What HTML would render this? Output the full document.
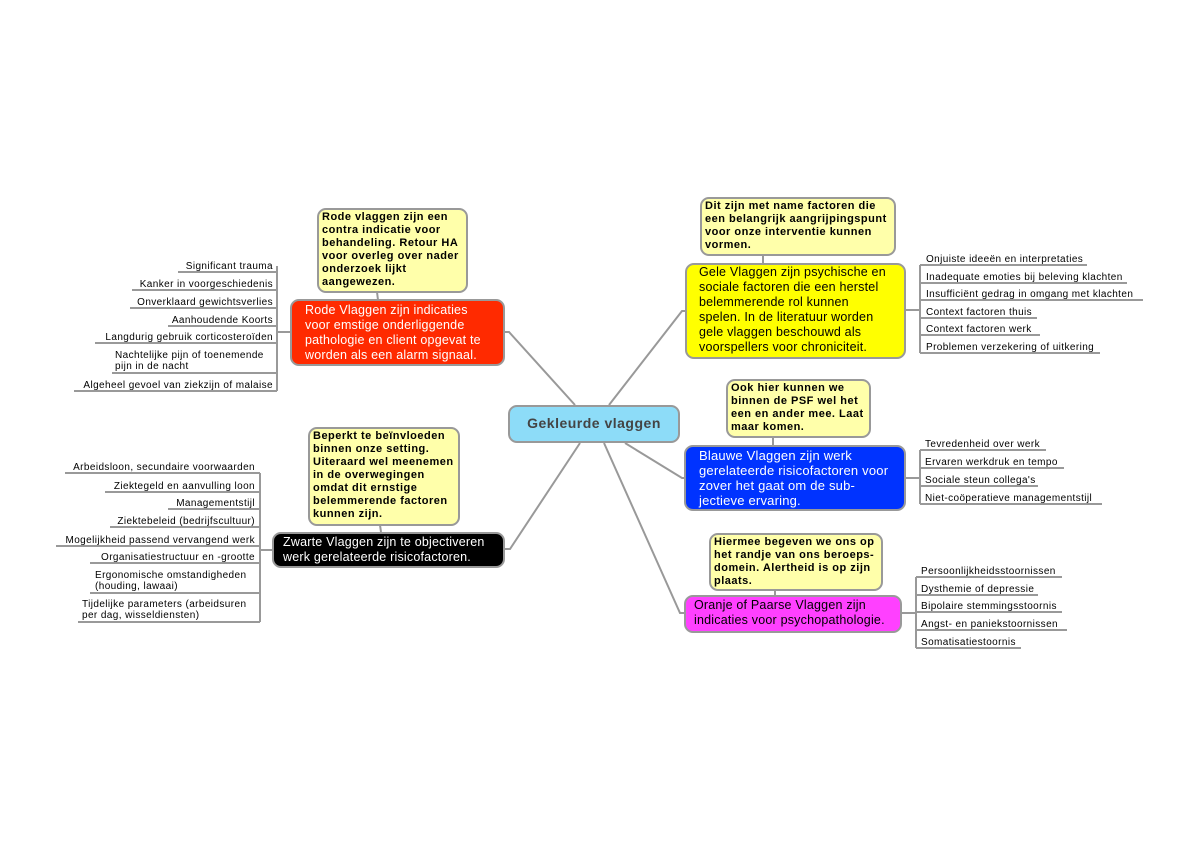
<!DOCTYPE html>
<html><head><meta charset="utf-8"><style>
body{margin:0;width:1200px;height:848px;background:#fff;position:relative;overflow:hidden;font-family:"Liberation Sans","DejaVu Sans",sans-serif;}
.b{position:absolute;box-sizing:border-box;border:2px solid #999;border-radius:9px;}
.t{position:absolute;font-size:12.5px;line-height:15px;letter-spacing:0.2px;white-space:nowrap;}
.c{position:absolute;box-sizing:border-box;border:2px solid #999;border-radius:9px;background:#ffffaa;font-weight:bold;font-size:11px;line-height:13px;padding:1px 3px;color:#000;letter-spacing:0.5px;white-space:nowrap;}
.i{position:absolute;font-size:10px;line-height:11px;white-space:nowrap;color:#000;letter-spacing:0.4px;}
</style></head><body>
<svg width="1200" height="848" style="position:absolute;left:0;top:0" fill="none" stroke="#999" stroke-width="2">
<polyline points="505,332 509,332 575,405"/>
<polyline points="609,405 682,311 686,311"/>
<polyline points="625,443 682,478 686,478"/>
<polyline points="580,443 510,549 505,549"/>
<polyline points="604,443 680,613 686,613"/>
<polyline points="290,332 277,332"/>
<line x1="277" y1="266" x2="277" y2="391"/>
<line x1="178" y1="272" x2="277" y2="272"/>
<line x1="132" y1="290" x2="277" y2="290"/>
<line x1="130" y1="308" x2="277" y2="308"/>
<line x1="168" y1="326" x2="277" y2="326"/>
<line x1="95" y1="343" x2="277" y2="343"/>
<line x1="112" y1="373" x2="277" y2="373"/>
<line x1="74" y1="391" x2="277" y2="391"/>
<polyline points="272,550 260,550"/>
<line x1="260" y1="473" x2="260" y2="622"/>
<line x1="65" y1="473" x2="260" y2="473"/>
<line x1="105" y1="492" x2="260" y2="492"/>
<line x1="168" y1="509" x2="260" y2="509"/>
<line x1="110" y1="527" x2="260" y2="527"/>
<line x1="56" y1="546" x2="260" y2="546"/>
<line x1="90" y1="563" x2="260" y2="563"/>
<line x1="90" y1="593" x2="260" y2="593"/>
<line x1="78" y1="622" x2="260" y2="622"/>
<polyline points="906,310 920,310"/>
<line x1="920" y1="265" x2="920" y2="353"/>
<line x1="920" y1="265" x2="1087" y2="265"/>
<line x1="920" y1="283" x2="1127" y2="283"/>
<line x1="920" y1="300" x2="1143" y2="300"/>
<line x1="920" y1="318" x2="1037" y2="318"/>
<line x1="920" y1="335" x2="1040" y2="335"/>
<line x1="920" y1="353" x2="1100" y2="353"/>
<polyline points="906,478 920,478"/>
<line x1="920" y1="450" x2="920" y2="504"/>
<line x1="920" y1="450" x2="1046" y2="450"/>
<line x1="920" y1="468" x2="1064" y2="468"/>
<line x1="920" y1="486" x2="1038" y2="486"/>
<line x1="920" y1="504" x2="1102" y2="504"/>
<polyline points="902,613 916,613"/>
<line x1="916" y1="577" x2="916" y2="648"/>
<line x1="916" y1="577" x2="1062" y2="577"/>
<line x1="916" y1="595" x2="1038" y2="595"/>
<line x1="916" y1="612" x2="1062" y2="612"/>
<line x1="916" y1="630" x2="1067" y2="630"/>
<line x1="916" y1="648" x2="1021" y2="648"/>
<line x1="377" y1="292" x2="378" y2="300"/>
<line x1="380" y1="525" x2="381" y2="532"/>
<line x1="763" y1="255" x2="763" y2="264"/>
<line x1="773" y1="437" x2="773" y2="446"/>
<line x1="775" y1="590" x2="775" y2="596"/>
</svg>

<div class="b" style="left:508px;top:405px;width:172px;height:38px;background:#8ddcf8;"></div>
<div class="t" style="left:508px;top:416px;width:172px;text-align:center;font-size:14px;font-weight:bold;color:#444;letter-spacing:0.5px;">Gekleurde vlaggen</div>

<div class="b" style="left:290px;top:299px;width:215px;height:67px;background:#ff2a00;"></div>
<div class="t" style="left:305px;top:303px;color:#fff;">Rode Vlaggen zijn indicaties<br>voor emstige onderliggende<br>pathologie en client opgevat te<br>worden als een alarm signaal.</div>
<div class="c" style="left:317px;top:208px;width:151px;height:85px;">Rode vlaggen zijn een<br>contra indicatie voor<br>behandeling. Retour HA<br>voor overleg over nader<br>onderzoek lijkt<br>aangewezen.</div>

<div class="b" style="left:272px;top:532px;width:233px;height:36px;background:#000;"></div>
<div class="t" style="left:283px;top:535px;color:#fff;">Zwarte Vlaggen zijn te objectiveren<br>werk gerelateerde risicofactoren.</div>
<div class="c" style="left:308px;top:427px;width:152px;height:99px;">Beperkt te beïnvloeden<br>binnen onze setting.<br>Uiteraard wel meenemen<br>in de overwegingen<br>omdat dit ernstige<br>belemmerende factoren<br>kunnen zijn.</div>

<div class="b" style="left:685px;top:263px;width:221px;height:96px;background:#ffff00;"></div>
<div class="t" style="left:699px;top:265px;color:#000;">Gele Vlaggen zijn psychische en<br>sociale factoren die een herstel<br>belemmerende rol kunnen<br>spelen. In de literatuur worden<br>gele vlaggen beschouwd als<br>voorspellers voor chroniciteit.</div>
<div class="c" style="left:700px;top:197px;width:196px;height:59px;">Dit zijn met name factoren die<br>een belangrijk aangrijpingspunt<br>voor onze interventie kunnen<br>vormen.</div>

<div class="b" style="left:684px;top:445px;width:222px;height:66px;background:#0033ff;"></div>
<div class="t" style="left:699px;top:448px;color:#fff;font-size:13px;line-height:15px;">Blauwe Vlaggen zijn werk<br>gerelateerde risicofactoren voor<br>zover het gaat om de sub-<br>jectieve ervaring.</div>
<div class="c" style="left:726px;top:379px;width:145px;height:59px;">Ook hier kunnen we<br>binnen de PSF wel het<br>een en ander mee. Laat<br>maar komen.</div>

<div class="b" style="left:684px;top:595px;width:218px;height:38px;background:#ff40ff;"></div>
<div class="t" style="left:694px;top:598px;color:#000;">Oranje of Paarse Vlaggen zijn<br>indicaties voor psychopathologie.</div>
<div class="c" style="left:709px;top:533px;width:174px;height:58px;">Hiermee begeven we ons op<br>het randje van ons beroeps-<br>domein. Alertheid is op zijn<br>plaats.</div>

<div class="i" style="right:927px;top:261px;">Significant trauma</div>
<div class="i" style="right:927px;top:279px;">Kanker in voorgeschiedenis</div>
<div class="i" style="right:927px;top:297px;">Onverklaard gewichtsverlies</div>
<div class="i" style="right:927px;top:315px;">Aanhoudende Koorts</div>
<div class="i" style="right:927px;top:332px;">Langdurig gebruik corticosteroïden</div>
<div class="i" style="left:115px;top:350px;">Nachtelijke pijn of toenemende<br>pijn in de nacht</div>
<div class="i" style="right:927px;top:380px;">Algeheel gevoel van ziekzijn of malaise</div>

<div class="i" style="right:945px;top:462px;">Arbeidsloon, secundaire voorwaarden</div>
<div class="i" style="right:945px;top:481px;">Ziektegeld en aanvulling loon</div>
<div class="i" style="right:945px;top:498px;">Managementstijl</div>
<div class="i" style="right:945px;top:516px;">Ziektebeleid (bedrijfscultuur)</div>
<div class="i" style="right:945px;top:535px;">Mogelijkheid passend vervangend werk</div>
<div class="i" style="right:945px;top:552px;">Organisatiestructuur en -grootte</div>
<div class="i" style="left:95px;top:570px;">Ergonomische omstandigheden<br>(houding, lawaai)</div>
<div class="i" style="left:82px;top:599px;">Tijdelijke parameters (arbeidsuren<br>per dag, wisseldiensten)</div>

<div class="i" style="left:926px;top:254px;">Onjuiste ideeën en interpretaties</div>
<div class="i" style="left:926px;top:272px;">Inadequate emoties bij beleving klachten</div>
<div class="i" style="left:926px;top:289px;">Insufficiënt gedrag in omgang met klachten</div>
<div class="i" style="left:926px;top:307px;">Context factoren thuis</div>
<div class="i" style="left:926px;top:324px;">Context factoren werk</div>
<div class="i" style="left:926px;top:342px;">Problemen verzekering of uitkering</div>

<div class="i" style="left:925px;top:439px;">Tevredenheid over werk</div>
<div class="i" style="left:925px;top:457px;">Ervaren werkdruk en tempo</div>
<div class="i" style="left:925px;top:475px;">Sociale steun collega's</div>
<div class="i" style="left:925px;top:493px;">Niet-coöperatieve managementstijl</div>

<div class="i" style="left:921px;top:566px;">Persoonlijkheidsstoornissen</div>
<div class="i" style="left:921px;top:584px;">Dysthemie of depressie</div>
<div class="i" style="left:921px;top:601px;">Bipolaire stemmingsstoornis</div>
<div class="i" style="left:921px;top:619px;">Angst- en paniekstoornissen</div>
<div class="i" style="left:921px;top:637px;">Somatisatiestoornis</div>
</body></html>
